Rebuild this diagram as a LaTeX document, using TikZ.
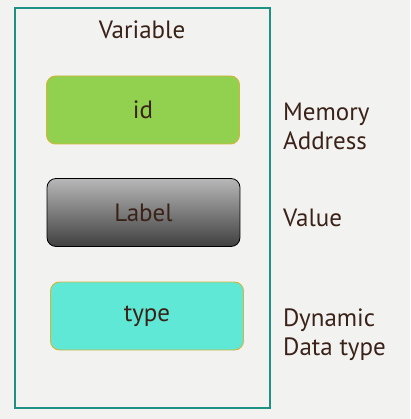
\documentclass[tikz,border=0pt]{standalone}
\usepackage{fontspec}
\setmainfont{PT Sans}
\usepackage{tikz}

\definecolor{bgpage}{HTML}{F2F2F1}
\definecolor{frame}{HTML}{1E9084}
\definecolor{ink}{HTML}{3A2218}
\definecolor{idgreen}{HTML}{92D050}
\definecolor{typecyan}{HTML}{5FE8D6}
\definecolor{goldline}{HTML}{D6B43A}

\tikzset{
  field/.style={rounded corners=9pt, minimum width=193pt, minimum height=68pt,
    inner sep=0pt, text=ink, font=\fontsize{25}{29}\selectfont},
  note/.style={anchor=west, align=left, text=ink, inner sep=0pt,
    font=\fontsize{25}{29}\selectfont}
}

\begin{document}
\begin{tikzpicture}[x=1pt,y=-1pt]
\fill[bgpage] (0,0) rectangle (410,419);
\useasboundingbox (0,0) rectangle (410,419);
\draw[frame, line width=1.6pt] (15,8) rectangle (270,408);
\node[text=ink, font=\fontsize{25}{29}\selectfont] (var) at (142,30) {Variable};
% the three parts of a variable
\node[field, fill=idgreen, draw=goldline, line width=0.9pt] (id) at (143,110) {id};
\node[field, top color=black!28, bottom color=black!75, draw=black, line width=0.8pt] (label) at (143.5,212.5) {Label};
\node[field, fill=typecyan, draw=goldline, line width=0.9pt] (type) at (147,316) {type};
% what each part holds
\node[note] (addr) at (283,126) {Memory\\Address};
\node[note] (val) at (283,218) {Value};
\node[note] (dtype) at (283,335) {Dynamic\\Data type};
\end{tikzpicture}
\end{document}
